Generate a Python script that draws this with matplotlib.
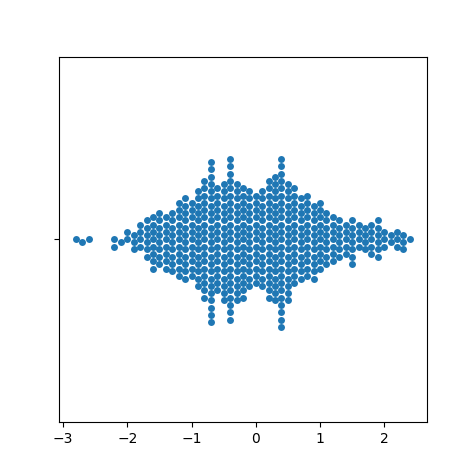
import matplotlib
matplotlib.use('Agg')
import matplotlib.pyplot as plt
import numpy as np
import seaborn as sns

# values, binned at 0.1 steps: centre -> number of points
bin_centers = [-2.8, -2.7, -2.6, -2.2, -2.1, -2.0, -1.9, -1.8, -1.7, -1.6, -1.5,
               -1.4, -1.3, -1.2, -1.1, -1.0, -0.9, -0.8, -0.7, -0.6, -0.5, -0.4,
               -0.3, -0.2, -0.1, 0.0, 0.1, 0.2, 0.3, 0.4, 0.5, 0.6, 0.7, 0.8,
               0.9, 1.0, 1.1, 1.2, 1.3, 1.4, 1.5, 1.6, 1.7, 1.8, 1.9, 2.0, 2.1,
               2.2, 2.3, 2.4]
bin_counts = [1, 1, 1, 2, 1, 2, 3, 4, 6, 8, 8,
              8, 9, 11, 12, 11, 14, 17, 23, 15, 17, 23,
              17, 16, 14, 13, 14, 17, 18, 24, 17, 14, 12, 12,
              11, 10, 8, 7, 6, 5, 7, 4, 4, 5, 6, 3, 2,
              3, 3, 1]

values = np.repeat(bin_centers, bin_counts)

fig = plt.figure(figsize=(4.74, 4.74), dpi=100)
ax = fig.add_subplot(111)
sns.swarmplot(x=values, ax=ax, size=5)
ax.set_xticks([-3, -2, -1, 0, 1, 2])

plt.savefig('out.png', dpi=100)
